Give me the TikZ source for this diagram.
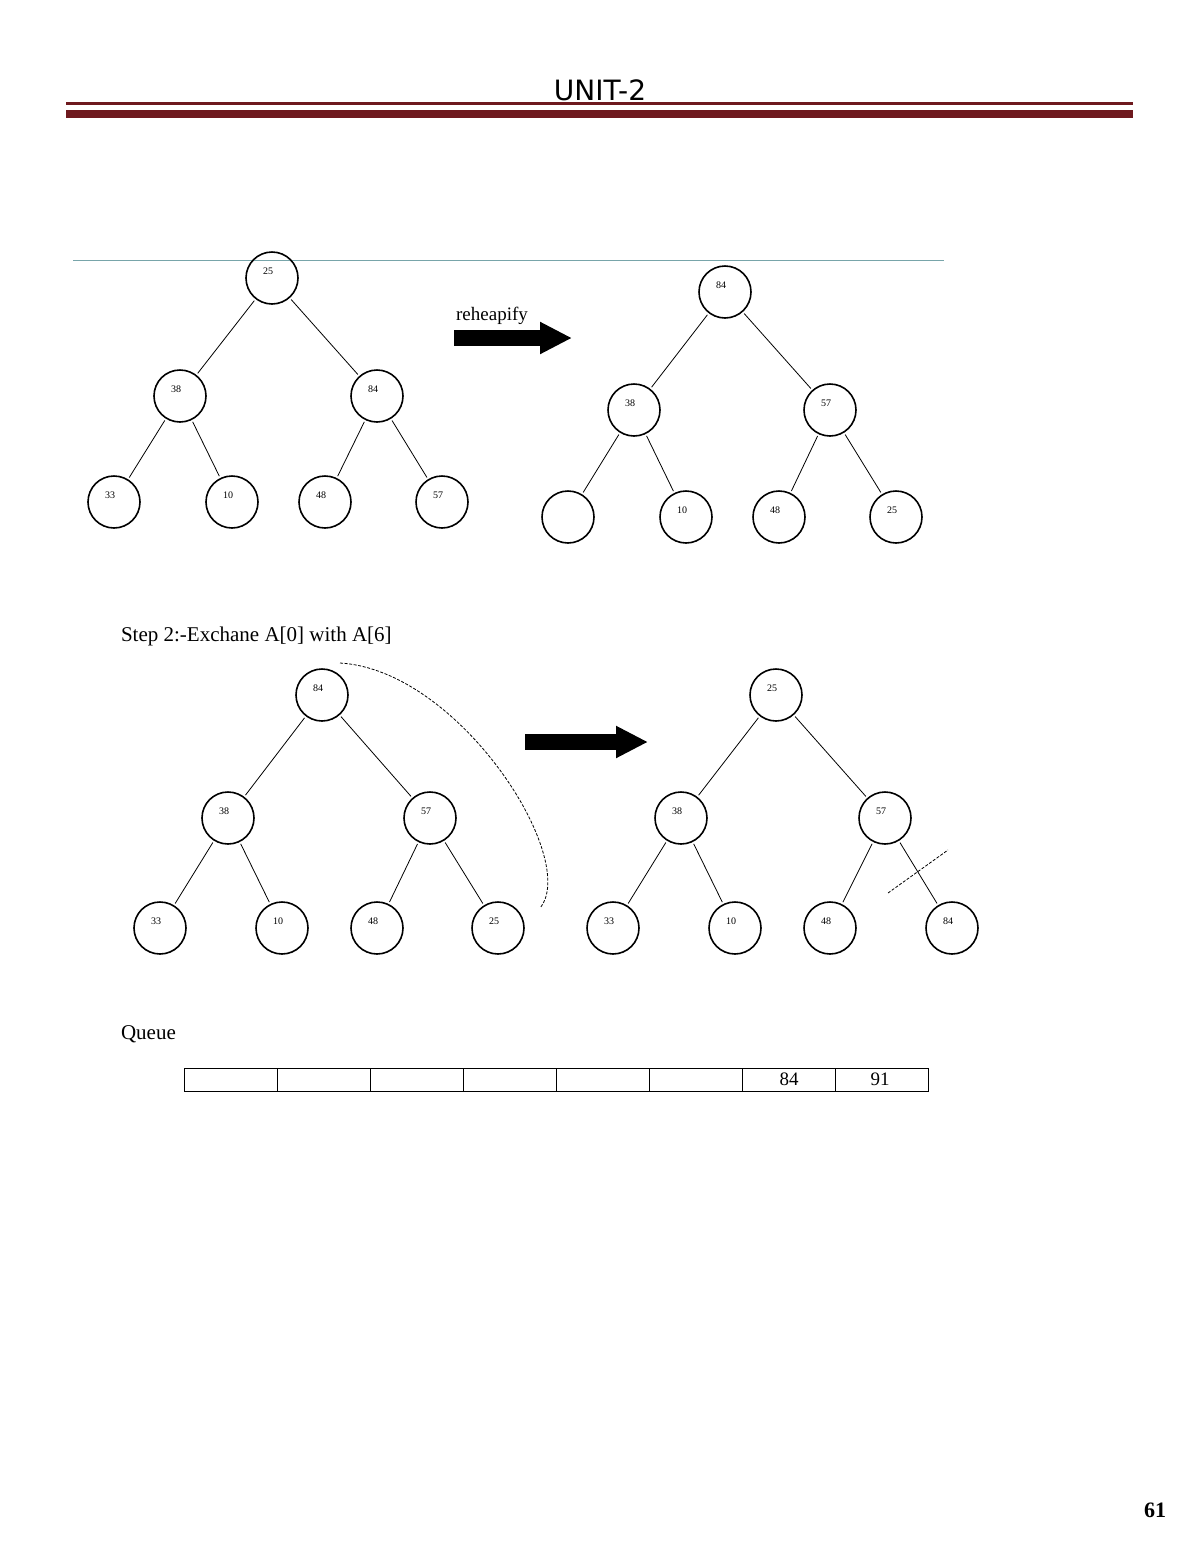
\documentclass[tikz,border=0pt]{standalone}
\usepackage{fontspec}
\setmainfont{Liberation Serif}
\newfontfamily\headfont{DejaVu Sans}
\usetikzlibrary{arrows.meta}
\begin{document}
\begin{tikzpicture}[x=0.5pt,y=-0.5pt,
  hn/.style={circle,draw,thick,minimum size=26pt,inner sep=0pt,font=\fontsize{5}{6}\selectfont},
  ed/.style={thin,shorten >=1pt,shorten <=1pt},
  bigarrow/.style={line width=8pt,-{Triangle[length=16pt,width=15pt]}}]
\useasboundingbox (0,0) rectangle (1200,1553);
\node[font=\headfont\fontsize{14}{16}\selectfont] (title) at (600,90) {UNIT-2};
\draw[line width=1.5pt,color={rgb,255:red,110;green,25;blue,30}] (66,103) -- (1133,103);
\draw[line width=4pt,color={rgb,255:red,110;green,25;blue,30}] (66,114) -- (1133,114);
\draw[color={rgb,255:red,120;green,165;blue,170}] (73,260) -- (944,260);
\foreach \n/\t/\x/\y in {a1/25/272/278,a2/38/180/396,a3/84/377/396,a4/33/114/502,a5/10/232/502,a6/48/325/502,a7/57/442/502,
 b1/84/725/292,b2/38/634/410,b3/57/830/410,b4//568/517,b5/10/686/517,b6/48/779/517,b7/25/896/517,
 c1/84/322/695,c2/38/228/818,c3/57/430/818,c4/33/160/928,c5/10/282/928,c6/48/377/928,c7/25/498/928,
 d1/25/776/695,d2/38/681/818,d3/57/885/818,d4/33/613/928,d5/10/735/928,d6/48/830/928,d7/84/952/928}
 \node[hn] (\n) at (\x,\y) {\raisebox{7pt}{\hspace{-4pt}\t}};
\foreach \p in {a,b,c,d}{
 \draw[ed] (\p1) -- (\p2); \draw[ed] (\p1) -- (\p3);
 \draw[ed] (\p2) -- (\p4); \draw[ed] (\p2) -- (\p5);
 \draw[ed] (\p3) -- (\p6); \draw[ed] (\p3) -- (\p7);}
\coordinate (r1s) at (454,338); \coordinate (r1e) at (572,338);
\draw[bigarrow] (r1s) -- (r1e);
\node[font=\fontsize{9.5}{10}\selectfont] (rh) at (492,316) {reheapify};
\node[anchor=west,font=\fontsize{10.5}{12}\selectfont] (step) at (114,636) {Step 2:-Exchane A[0] with A[6]};
\coordinate (r2s) at (525,742); \coordinate (r2e) at (648,742);
\draw[bigarrow] (r2s) -- (r2e);
\coordinate (cs) at (340,663); \coordinate (ce) at (540,908);
\draw[densely dashed,dash pattern=on 1.5pt off 0.8pt,thin] (cs) .. controls (460,670) and (580,860) .. (ce);
\coordinate (x1) at (888,893); \coordinate (x2) at (948,850);
\draw[dash pattern=on 1.5pt off 0.8pt,thin] (x1) -- (x2);
\node[anchor=west,font=\fontsize{10.5}{12}\selectfont] (q) at (114,1034) {Queue};
\foreach \i in {0,...,7} \draw[thin] (184+93*\i,1068) rectangle (277+93*\i,1091);
\node[font=\fontsize{9.5}{10}\selectfont] (q84) at (789,1079) {84};
\node[font=\fontsize{9.5}{10}\selectfont] (q91) at (880,1079) {91};
\node[font=\bfseries\fontsize{11}{12}\selectfont] (pg) at (1155,1510) {61};
\end{tikzpicture}
\end{document}
